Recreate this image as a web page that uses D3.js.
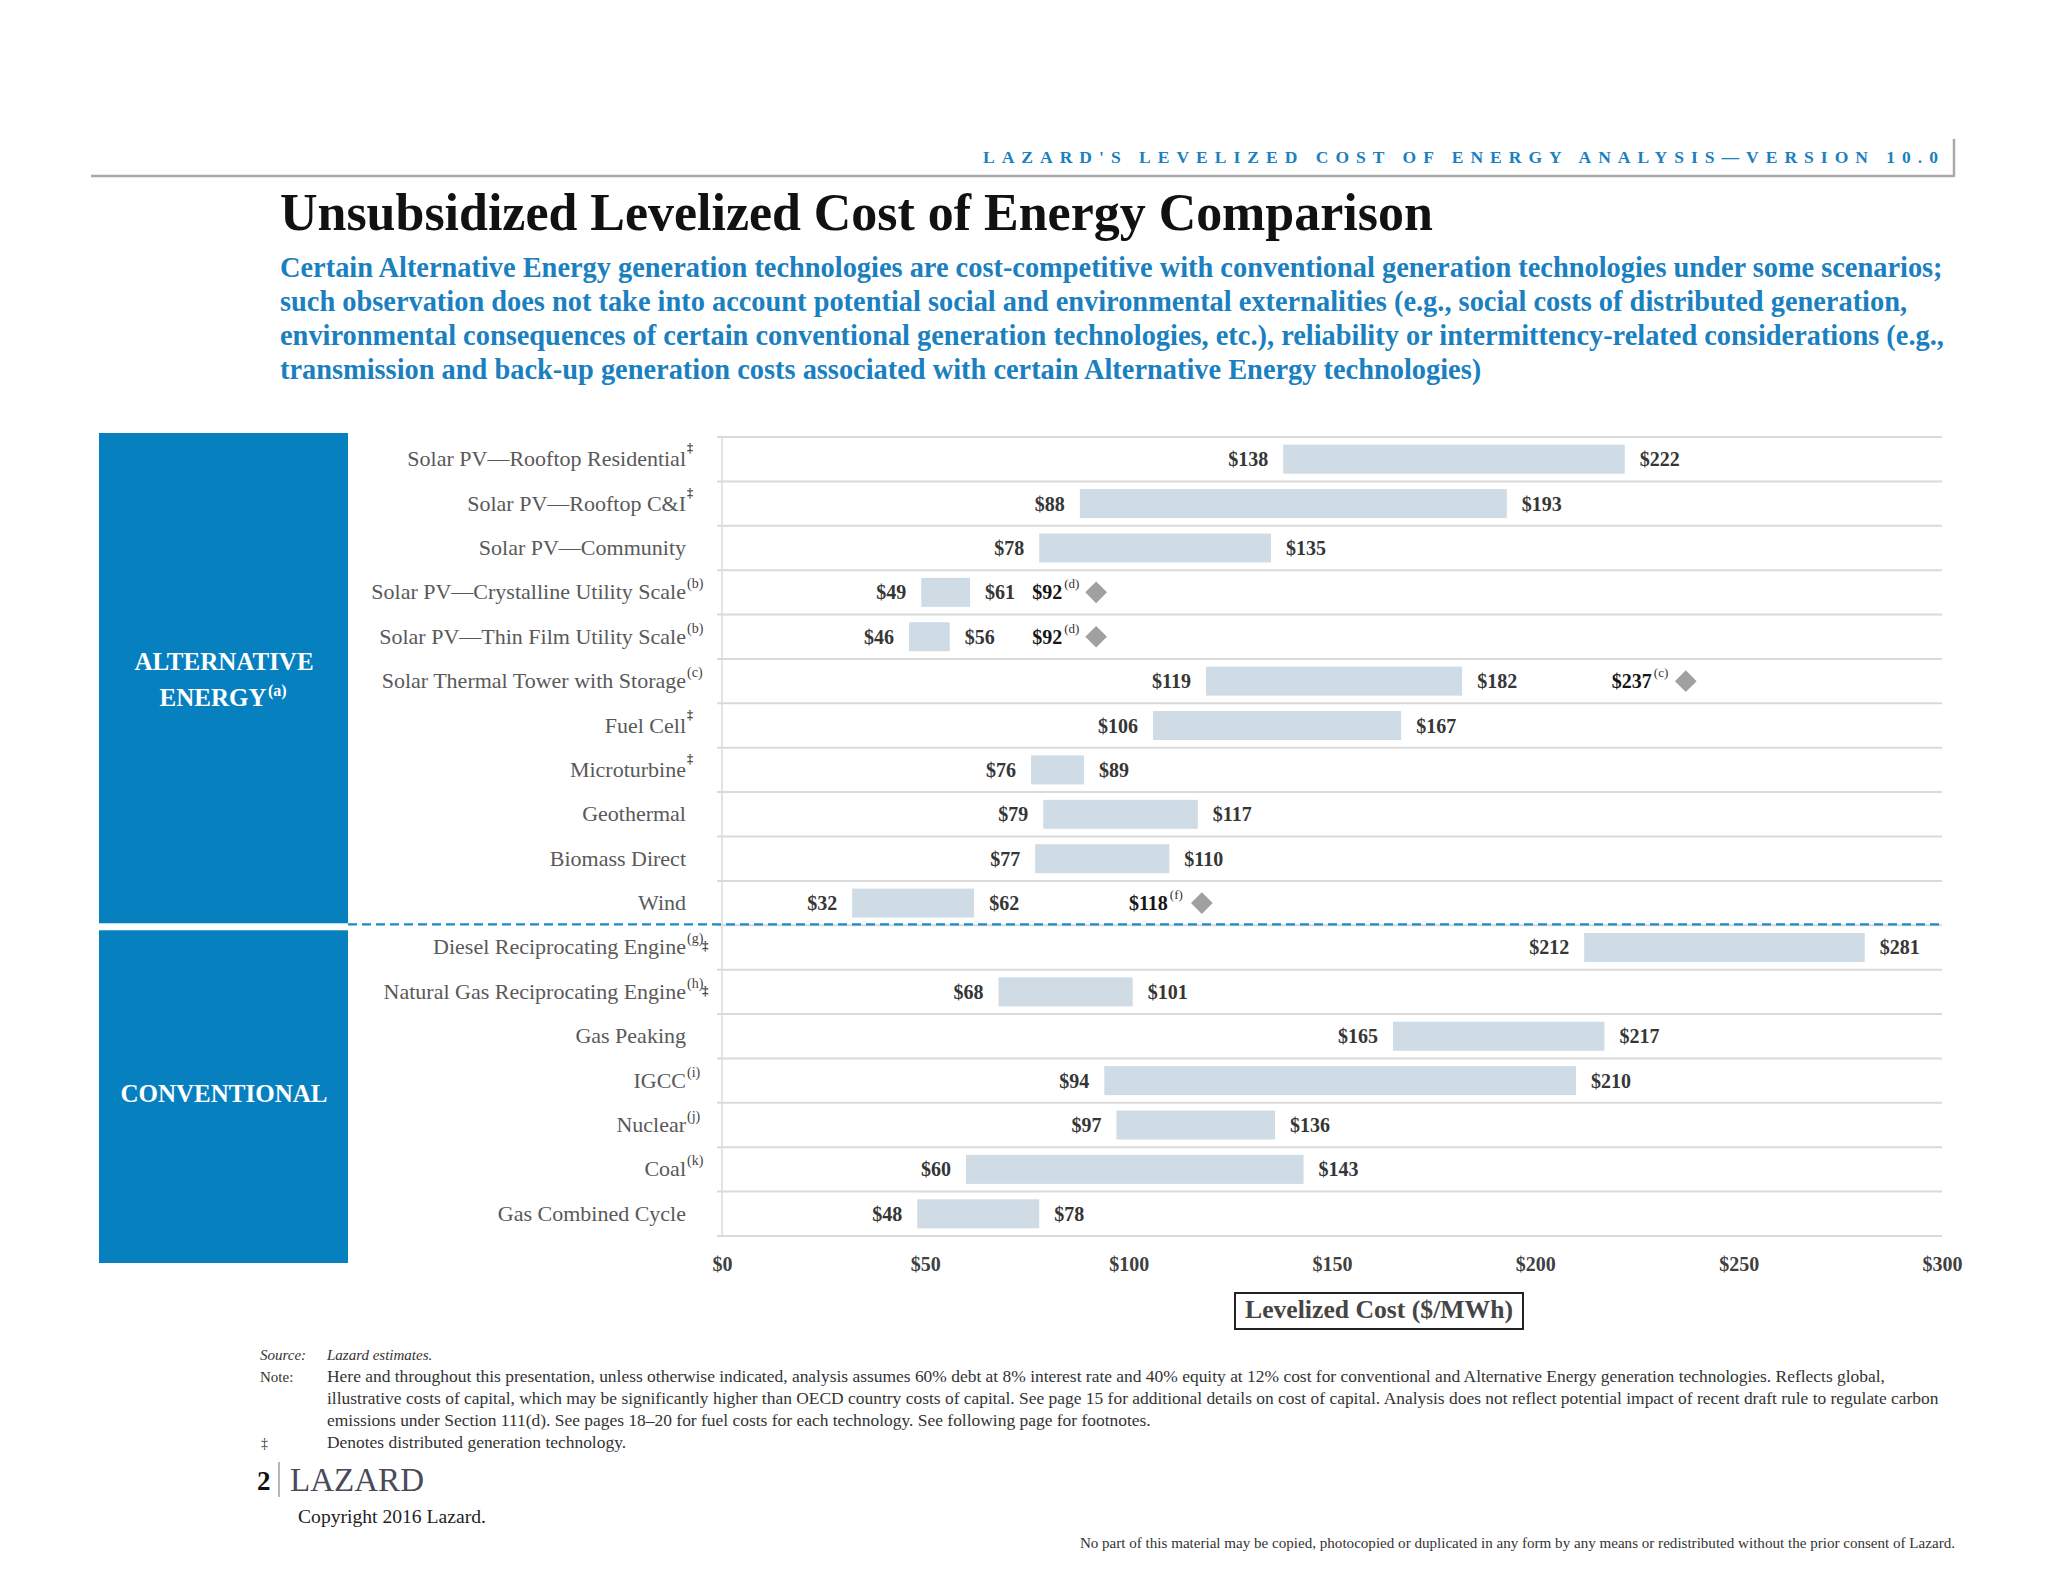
<!DOCTYPE html>
<html>
<head>
<meta charset="utf-8">
<script src="https://cdn.jsdelivr.net/npm/d3@7"></script>
<style>
  html, body { margin: 0; padding: 0; background: #ffffff; }
  svg { display: block; }
</style>
</head>
<body>
<script>
// ---------------- DATA ----------------
const categories = [
  "Solar PV\u2014Rooftop Residential",
  "Solar PV\u2014Rooftop C&I",
  "Solar PV\u2014Community",
  "Solar PV\u2014Crystalline Utility Scale",
  "Solar PV\u2014Thin Film Utility Scale",
  "Solar Thermal Tower with Storage",
  "Fuel Cell",
  "Microturbine",
  "Geothermal",
  "Biomass Direct",
  "Wind",
  "Diesel Reciprocating Engine",
  "Natural Gas Reciprocating Engine",
  "Gas Peaking",
  "IGCC",
  "Nuclear",
  "Coal",
  "Gas Combined Cycle"
];
const categoryNotes = ["\u2021", "\u2021", "", "(b)", "(b)", "(c)", "\u2021", "\u2021", "", "", "",
  "(g)", "(h)", "", "(i)", "(j)", "(k)", ""];
const distributedMarks = ["", "", "", "", "", "", "", "", "", "", "",
  "\u2021", "\u2021", "", "", "", "", ""];
const lowValues  = [138, 88, 78, 49, 46, 119, 106, 76, 79, 77, 32, 212, 68, 165, 94, 97, 60, 48];
const highValues = [222, 193, 135, 61, 56, 182, 167, 89, 117, 110, 62, 281, 101, 217, 210, 136, 143, 78];
const groups = ["ALTERNATIVE ENERGY", "CONVENTIONAL"];
const groupSizes = [11, 7];
const markerCategories = ["Solar PV\u2014Crystalline Utility Scale", "Solar PV\u2014Thin Film Utility Scale",
  "Solar Thermal Tower with Storage", "Wind"];
const markerValues = [92, 92, 237, 118];
const markerNotes = ["(d)", "(d)", "(c)", "(f)"];
const xTicks = [0, 50, 100, 150, 200, 250, 300];

const headerText = "LAZARD'S LEVELIZED COST OF ENERGY ANALYSIS\u2014VERSION 10.0";
const titleText = "Unsubsidized Levelized Cost of Energy Comparison";
const subtitleLines = [
  "Certain Alternative Energy generation technologies are cost-competitive with conventional generation technologies under some scenarios;",
  "such observation does not take into account potential social and environmental externalities (e.g., social costs of distributed generation,",
  "environmental consequences of certain conventional generation technologies, etc.), reliability or intermittency-related considerations (e.g.,",
  "transmission and back-up generation costs associated with certain Alternative Energy technologies)"
];
const noteLines = [
  "Here and throughout this presentation, unless otherwise indicated, analysis assumes 60% debt at 8% interest rate and 40% equity at 12% cost for conventional and Alternative Energy generation technologies. Reflects global,",
  "illustrative costs of capital, which may be significantly higher than OECD country costs of capital. See page 15 for additional details on cost of capital. Analysis does not reflect potential impact of recent draft rule to regulate carbon",
  "emissions under Section 111(d). See pages 18\u201320 for fuel costs for each technology. See following page for footnotes."
];

// ---------------- LAYOUT ----------------
const W = 2048, H = 1582;
const SERIF = "'Liberation Serif', 'Times New Roman', serif";
const BLUE = "#0680bf";
const TEXTBLUE = "#1a80bf";
const BAR = "#cfdce6";
const GRID = "#dadada";

const svg = d3.select("body").append("svg")
  .attr("width", W).attr("height", H)
  .style("font-family", SERIF);

svg.append("rect").attr("width", W).attr("height", H).attr("fill", "#ffffff");

function fitWidth(sel, target) {
  const node = sel.node();
  const w = node.getComputedTextLength();
  const fs = parseFloat(sel.attr("font-size"));
  const nfs = fs * target / w;
  sel.attr("font-size", nfs);
  return nfs;
}

// Header
svg.append("text")
  .attr("x", 1938).attr("y", 163)
  .attr("text-anchor", "end")
  .attr("font-size", 17.5).attr("font-weight", "bold")
  .attr("fill", TEXTBLUE)
  .attr("textLength", 955).attr("lengthAdjust", "spacing")
  .text(headerText);
svg.append("line").attr("x1", 91).attr("x2", 1954).attr("y1", 176).attr("y2", 176)
  .attr("stroke", "#a9a9a9").attr("stroke-width", 2.5);
svg.append("line").attr("x1", 1954).attr("x2", 1954).attr("y1", 139).attr("y2", 177)
  .attr("stroke", "#a9a9a9").attr("stroke-width", 2.5);

// Title
const title = svg.append("text")
  .attr("x", 280).attr("y", 230)
  .attr("font-size", 46).attr("font-weight", "bold").attr("fill", "#111")
  .text(titleText);
fitWidth(title, 1153);

// Subtitle
const subBaselines = [277, 311, 345, 379];
let subSize = null;
subtitleLines.forEach((line, i) => {
  const t = svg.append("text")
    .attr("x", 280).attr("y", subBaselines[i])
    .attr("font-size", subSize || 24).attr("font-weight", "bold").attr("fill", TEXTBLUE)
    .text(line);
  if (i === 0) subSize = fitWidth(t, 1663);
});

// Scales
const x = d3.scaleLinear().domain([0, 300]).range([722, 1942]);
const y = d3.scaleBand().domain(categories).range([437, 1236]).padding(0);
const bw = y.bandwidth();
const barH = 29;

// Group panels
const sepY = y(categories[groupSizes[0]]);
svg.append("rect").attr("x", 99).attr("y", 433).attr("width", 249).attr("height", sepY - 2 - 433).attr("fill", BLUE);
svg.append("rect").attr("x", 99).attr("y", sepY + 5).attr("width", 249).attr("height", 1263 - sepY - 5).attr("fill", BLUE);

const altLabel = svg.append("text").attr("text-anchor", "middle").attr("fill", "#fff")
  .attr("font-weight", "bold").attr("font-size", 25);
altLabel.append("tspan").attr("x", 224).attr("y", 670).text("ALTERNATIVE");
altLabel.append("tspan").attr("x", 213).attr("y", 706).text("ENERGY");
svg.append("text").attr("x", 268).attr("y", 696).attr("fill", "#fff").attr("font-weight", "bold")
  .attr("font-size", 16).text("(a)");
svg.append("text").attr("x", 224).attr("y", 1102).attr("text-anchor", "middle").attr("fill", "#fff")
  .attr("font-weight", "bold").attr("font-size", 25).text("CONVENTIONAL");

// Gridlines
const boundaries = categories.map(c => y(c)).concat([y(categories[categories.length - 1]) + bw]);
svg.append("g").selectAll("line").data(boundaries).join("line")
  .attr("x1", 717).attr("x2", 1942)
  .attr("y1", d => d).attr("y2", d => d)
  .attr("stroke", GRID).attr("stroke-width", 2);
svg.append("line").attr("x1", x(0)).attr("x2", x(0)).attr("y1", 437).attr("y2", 1236)
  .attr("stroke", GRID).attr("stroke-width", 1.5);

// Separator dashed line
svg.append("line").attr("x1", 348).attr("x2", 1942).attr("y1", sepY - 1).attr("y2", sepY - 1)
  .attr("stroke", "#1b8ac9").attr("stroke-width", 2.2).attr("stroke-dasharray", "9,5");

// Category labels
const catG = svg.append("g");
categories.forEach((c, i) => {
  const cy = y(c) + bw / 2;
  catG.append("text").attr("x", 686).attr("y", cy + 7).attr("text-anchor", "end")
    .attr("font-size", 22).attr("fill", "#595959").text(c);
  if (categoryNotes[i]) {
    const isDagger = categoryNotes[i] === "\u2021";
    catG.append("text").attr("x", 687).attr("y", cy - (isDagger ? 7 : 4))
      .attr("font-size", isDagger ? 12 : 14).attr("fill", "#444")
      .attr("font-weight", isDagger ? "bold" : "normal")
      .text(categoryNotes[i]);
  }
  if (distributedMarks[i]) {
    catG.append("text").attr("x", 702).attr("y", cy + 3)
      .attr("font-size", 13).attr("font-weight", "bold").attr("fill", "#444")
      .text(distributedMarks[i]);
  }
});

// Bars
svg.append("g").selectAll("rect").data(categories).join("rect")
  .attr("x", (d, i) => x(lowValues[i]))
  .attr("y", d => y(d) + (bw - barH) / 2)
  .attr("width", (d, i) => x(highValues[i]) - x(lowValues[i]))
  .attr("height", barH)
  .attr("fill", BAR);

// Value labels
const valG = svg.append("g").attr("font-size", 20).attr("font-weight", "bold").attr("fill", "#363636");
valG.selectAll("text.low").data(categories).join("text").attr("class", "low")
  .attr("x", (d, i) => x(lowValues[i]) - 15)
  .attr("y", d => y(d) + bw / 2 + 7)
  .attr("text-anchor", "end")
  .text((d, i) => "$" + lowValues[i]);
valG.selectAll("text.high").data(categories).join("text").attr("class", "high")
  .attr("x", (d, i) => x(highValues[i]) + 15)
  .attr("y", d => y(d) + bw / 2 + 7)
  .attr("text-anchor", "start")
  .text((d, i) => "$" + highValues[i]);

// Diamond markers
const diamond = d3.symbol().type(d3.symbolDiamond2).size(300);
markerCategories.forEach((c, i) => {
  const cx = x(markerValues[i]);
  const cy = y(c) + bw / 2;
  svg.append("path").attr("d", diamond).attr("transform", `translate(${cx},${cy})`)
    .attr("fill", "#a0a0a0");
  svg.append("text").attr("x", cx - 34).attr("y", cy + 7).attr("text-anchor", "end")
    .attr("font-size", 20).attr("font-weight", "bold").attr("fill", "#151515")
    .text("$" + markerValues[i]);
  svg.append("text").attr("x", cx - 32).attr("y", cy - 4)
    .attr("font-size", 13).attr("fill", "#333").text(markerNotes[i]);
});

// X axis tick labels
const xAxis = d3.axisBottom(x).tickValues(xTicks).tickSize(0).tickPadding(0)
  .tickFormat(d => "$" + d);
const ax = svg.append("g").attr("transform", "translate(0,1257)").call(xAxis);
ax.select(".domain").remove();
ax.selectAll("text").attr("font-family", SERIF).attr("font-size", 20).attr("font-weight", "bold")
  .attr("fill", "#404040");

// Axis title box
svg.append("rect").attr("x", 1235).attr("y", 1293).attr("width", 288).attr("height", 36)
  .attr("fill", "#fff").attr("stroke", "#222").attr("stroke-width", 2);
const axT = svg.append("text").attr("x", 1379).attr("y", 1318).attr("text-anchor", "middle")
  .attr("font-size", 22).attr("font-weight", "bold").attr("fill", "#454545").text("Levelized Cost ($/MWh)");
fitWidth(axT, 268);

// Footnotes
svg.append("text").attr("x", 260).attr("y", 1360).attr("font-size", 15).attr("font-style", "italic")
  .attr("fill", "#333").text("Source:");
svg.append("text").attr("x", 327).attr("y", 1360).attr("font-size", 15).attr("font-style", "italic")
  .attr("fill", "#333").text("Lazard estimates.");
svg.append("text").attr("x", 260).attr("y", 1382).attr("font-size", 15).attr("fill", "#333").text("Note:");
const noteBase = [1382, 1404, 1426];
const probe = svg.append("text").attr("font-size", 15).text(noteLines[1]);
const noteSize = fitWidth(probe, 1612);
probe.remove();
noteLines.forEach((l, i) => {
  svg.append("text").attr("x", 327).attr("y", noteBase[i]).attr("font-size", noteSize)
    .attr("fill", "#333").text(l);
});
svg.append("text").attr("x", 261).attr("y", 1448).attr("font-size", 14).attr("fill", "#333").text("\u2021");
svg.append("text").attr("x", 327).attr("y", 1448).attr("font-size", noteSize).attr("fill", "#333")
  .text("Denotes distributed generation technology.");

// Page number & logo
svg.append("text").attr("x", 257).attr("y", 1490).attr("font-size", 27).attr("font-weight", "bold")
  .attr("fill", "#111").text("2");
svg.append("line").attr("x1", 279).attr("x2", 279).attr("y1", 1462).attr("y2", 1497)
  .attr("stroke", "#888").attr("stroke-width", 1.2);
svg.append("text").attr("x", 290).attr("y", 1491).attr("font-size", 33).attr("fill", "#4a4a58")
  .attr("textLength", 134).attr("lengthAdjust", "spacingAndGlyphs").text("LAZARD");
const cp = svg.append("text").attr("x", 298).attr("y", 1523).attr("font-size", 19).attr("fill", "#222")
  .text("Copyright 2016 Lazard.");
fitWidth(cp, 188);
const disc = svg.append("text").attr("x", 1955).attr("y", 1548).attr("text-anchor", "end")
  .attr("font-size", 14).attr("fill", "#333")
  .text("No part of this material may be copied, photocopied or duplicated in any form by any means or redistributed without the prior consent of Lazard.");
fitWidth(disc, 876);
</script>
</body>
</html>
